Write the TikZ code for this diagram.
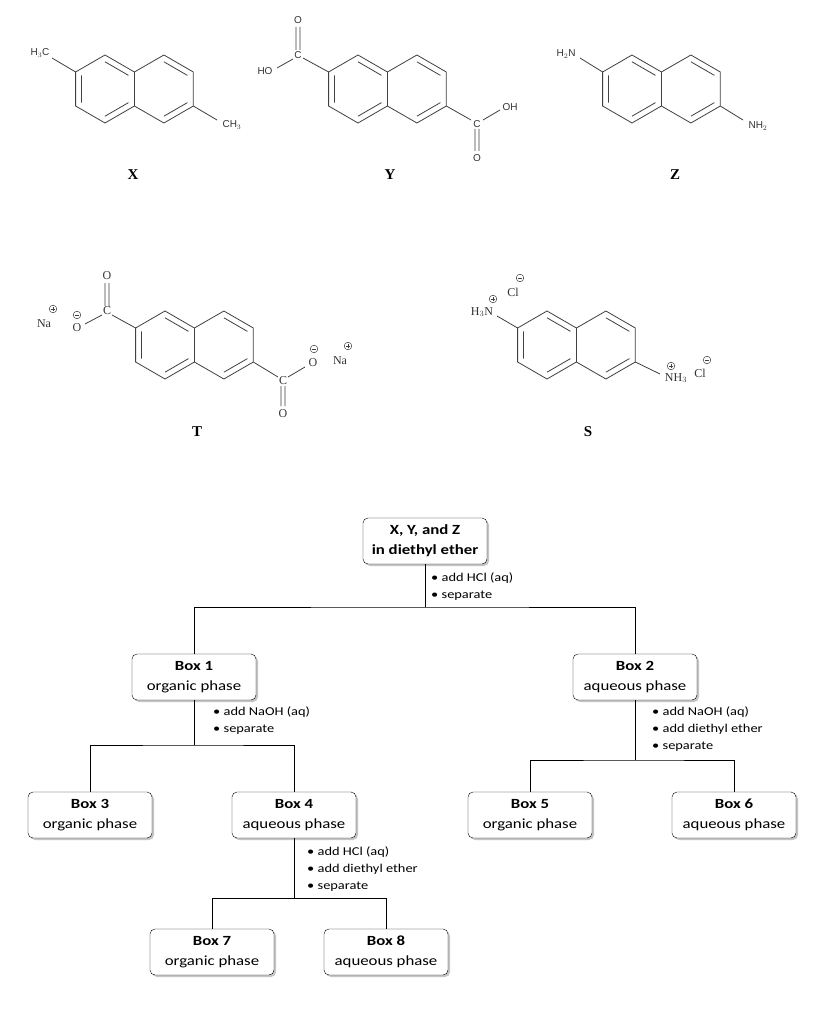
\documentclass[tikz,border=0pt]{standalone}
\usepackage{fontspec}
\setmainfont[FakeStretch=1.2]{Carlito}
\newfontfamily\chemf{Liberation Sans}
\newfontfamily\serf{Liberation Serif}
\usetikzlibrary{calc,shadows}
\newcommand\naphth[2]{%
\begin{scope}[shift={(#1,#2)}]
\coordinate (c1) at (0,0); \coordinate (c2) at (58.9,0);
\coordinate (t1) at (0,-34); \coordinate (ul) at (-29.4,-17); \coordinate (ll) at (-29.4,17);
\coordinate (b1) at (0,34); \coordinate (sl) at (29.4,17); \coordinate (su) at (29.4,-17);
\coordinate (t2) at (58.9,-34); \coordinate (ur) at (88.3,-17); \coordinate (lr) at (88.3,17);
\coordinate (b2) at (58.9,34);
\draw[bond] (t1)--(ul)--(ll)--(b1)--(sl)--(su)--cycle (su)--(t2)--(ur)--(lr)--(b2)--(sl);
\draw[bond] ($(c1)!0.8!(ul)$)--($(c1)!0.8!(ll)$) ($(c1)!0.8!(t1)$)--($(c1)!0.8!(su)$) ($(c1)!0.8!(b1)$)--($(c1)!0.8!(sl)$)
 ($(c2)!0.8!(t2)$)--($(c2)!0.8!(ur)$) ($(c2)!0.8!(b2)$)--($(c2)!0.8!(lr)$);
\end{scope}}
\newcommand\chg[3]{\draw[bond,line width=0.5pt] (#1,#2) circle (3.8); \draw[bond,line width=0.5pt] (#1-2.2,#2)--(#1+2.2,#2); \ifnum#3=1 \draw[bond,line width=0.5pt] (#1,#2-2.2)--(#1,#2+2.2);\fi}
\tikzset{bond/.style={draw=black!75,line width=0.8pt},
 atom/.style={font=\chemf\fontsize{10}{11}\selectfont,inner sep=0pt,text=black!80},
 satom/.style={font=\serf\fontsize{12}{13}\selectfont,inner sep=0pt,text=black!80},
 lbl/.style={font=\serf\bfseries\fontsize{15}{16}\selectfont},
 box/.style={draw,rounded corners=5pt,fill=white,drop shadow={shadow xshift=2pt,shadow yshift=-2pt,fill=black!45},minimum width=124pt,minimum height=46pt,align=center,font=\fontsize{14}{20}\selectfont,inner sep=1pt},
 note/.style={anchor=west,align=left,font=\fontsize{12}{17}\selectfont,inner sep=0pt},
 link/.style={draw,line width=0.7pt}}
\begin{document}
\begin{tikzpicture}[x=1pt,y=-1pt]
\useasboundingbox (0,0) rectangle (812,1024);
\fill[white] (0,0) rectangle (812,1024);
% X
\naphth{105}{89}
\draw[bond] (75.6,72)--(52,58) (193.3,106)--(217,120);
\node[atom] (xa) at (40,53) {H$_3$C};
\node[atom] (xb) at (232,125) {CH$_3$};
\node[lbl] (lx) at (133,175) {X};
% Y
\naphth{358}{89}
\draw[bond] (328.6,72)--(303,58) (296,50)--(296,27) (300,50)--(300,27) (293,59)--(277,68);
\node[atom] (yc1) at (298,55) {C};
\node[atom] (yo1) at (298,20) {O};
\node[atom] (yh1) at (265,71) {HO};
\draw[bond] (446.3,106)--(471,120) (475,129)--(475,151) (479,129)--(479,151) (483,120)--(500,110);
\node[atom] (yc2) at (477,124) {C};
\node[atom] (yo2) at (477,158) {O};
\node[atom] (yh2) at (510,107) {OH};
\node[lbl] (ly) at (390,175) {Y};
% Z
\naphth{632}{89}
\draw[bond] (602.6,72)--(580,58) (720.3,106)--(743,120);
\node[atom] (za) at (566,54) {H$_2$N};
\node[atom] (zb) at (758,126) {NH$_2$};
\node[lbl] (lz) at (675,175) {Z};
% T
\naphth{165}{345}
\draw[bond] (135.6,328)--(112,315) (105,306)--(105,283) (109,306)--(109,283) (102,315)--(85,324);
\node[satom] (tc1) at (107,311) {C};
\node[satom] (to1) at (107,276) {O};
\node[satom] (tm1) at (77,328) {O};
\chg{77}{315}{0}
\node[satom] (tn1) at (44,324) {Na};
\chg{53}{309}{1}
\draw[bond] (253.3,362)--(278,377) (281,386)--(281,406) (285,386)--(285,406) (288,377)--(305,367);
\node[satom] (tc2) at (283,381) {C};
\node[satom] (to2) at (283,414) {O};
\node[satom] (tm2) at (313,363) {O};
\chg{314}{349}{0}
\node[satom] (tn2) at (340,361) {Na};
\chg{348}{346}{1}
\node[lbl] (lt) at (197,432) {T};
% S
\naphth{547}{345}
\draw[bond] (517.6,328)--(497,316) (635.3,362)--(660,374);
\node[satom] (sa) at (482,312) {H$_3$N};
\chg{493}{299}{1}
\node[satom] (sc1) at (513,292) {Cl};
\chg{520}{278}{0}
\node[satom] (sb) at (676,378) {NH$_3$};
\chg{671}{366}{1}
\node[satom] (sc2) at (700,373) {Cl};
\chg{707}{360}{0}
\node[lbl] (ls) at (588,432) {S};
% flowchart
\node[box] (top) at (425,541) {\textbf{X, Y, and Z}\\\textbf{in diethyl ether}};
\node[box] (b1) at (194,677) {\textbf{Box 1}\\organic phase};
\node[box] (b2) at (635,677) {\textbf{Box 2}\\aqueous phase};
\node[box] (b3) at (90,815) {\textbf{Box 3}\\organic phase};
\node[box] (b4) at (294,815) {\textbf{Box 4}\\aqueous phase};
\node[box] (b5) at (530,815) {\textbf{Box 5}\\organic phase};
\node[box] (b6) at (734,815) {\textbf{Box 6}\\aqueous phase};
\node[box] (b7) at (212,952) {\textbf{Box 7}\\organic phase};
\node[box] (b8) at (386,952) {\textbf{Box 8}\\aqueous phase};
\coordinate (j0) at (425,607);
\coordinate (j1) at (194,745);
\coordinate (j2) at (635,760);
\coordinate (j4) at (294,898);
\draw[link] (top.south)--(j0) (b1.north)|-(j0) -|(b2.north);
\draw[link] (b1.south)--(j1) (b3.north)|-(j1) -|(b4.north);
\draw[link] (b2.south)--(j2) (b5.north)|-(j2) -|(b6.north);
\draw[link] (b4.south)--(j4) (b7.north)|-(j4) -|(b8.north);
\node[note] (n0) at (431,587) {• add HCl (aq)\\• separate};
\node[note] (n1) at (213,721) {• add NaOH (aq)\\• separate};
\node[note] (n2) at (652,729) {• add NaOH (aq)\\• add diethyl ether\\• separate};
\node[note] (n4) at (307,869) {• add HCl (aq)\\• add diethyl ether\\• separate};
\end{tikzpicture}
\end{document}
